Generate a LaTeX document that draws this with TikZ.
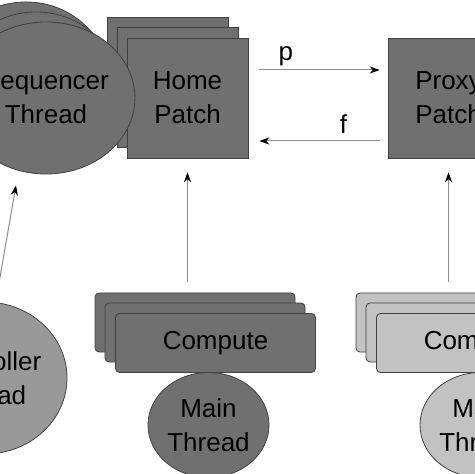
\documentclass[tikz,border=0pt]{standalone}
\usepackage{fontspec}
\setmainfont{Liberation Sans}
\usetikzlibrary{arrows.meta, shapes.geometric}

\definecolor{darkfill}{gray}{0.44}
\definecolor{midfill}{gray}{0.60}
\definecolor{lightfill}{gray}{0.76}

\tikzset{
  patch/.style = {draw=black!75, line width=0.4pt, fill=darkfill, inner sep=0pt,
                  minimum width=60.5pt, minimum height=60pt, align=center},
  thread/.style = {ellipse, draw=black!75, line width=0.4pt, inner sep=0pt, align=center},
  bigthread/.style = {thread, minimum width=82pt, minimum height=76pt},
  smallthread/.style = {thread, minimum width=60.5pt, minimum height=52.5pt},
  compute/.style = {draw=black!75, line width=0.4pt, rounded corners=2pt, inner sep=0pt,
                    minimum width=100pt, minimum height=29.5pt},
  link/.style = {draw=black!45, line width=0.5pt,
                 -{Stealth[length=5pt, width=3.6pt, color=black]}}
}

\begin{document}
\begin{tikzpicture} [x=0.5pt, y=-0.5pt, font=\fontsize{13}{17}\selectfont]

\useasboundingbox (0,0) rectangle (474,474);

% home patch stack
\node (home3) [patch] at (167.5,77) {};
\node (home2) [patch] at (177.5,87.5) {};
\node (home) [patch] at (187.5,98) {Home\\Patch};

% sequencer stack
\node (seq3) [bigthread, fill=darkfill] at (26,78) {};
\node (seq2) [bigthread, fill=darkfill] at (36,88) {};
\node (seq) [bigthread, fill=darkfill] at (46,98) {Sequencer\\Thread};

\node (proxy) [patch] at (448.5,98) {Proxy\\Patch};

\node (ctrl) [bigthread, fill=midfill] at (-15,378) {Controller\\Thread};

% compute objects
\node (comp3) [compute, fill=darkfill] at (195,322.5) {};
\node (comp2) [compute, fill=darkfill] at (205,332.5) {};
\node (comp) [compute, fill=darkfill] at (215.5,343) {Compute};
\node (main) [smallthread, fill=darkfill] at (208.5,425) {Main\\Thread};

\node (rcomp3) [compute, fill=lightfill] at (456,322.5) {};
\node (rcomp2) [compute, fill=lightfill] at (466,332.5) {};
\node (rcomp) [compute, fill=lightfill] at (476.5,343) {Compute};
\node (rmain) [smallthread, fill=lightfill] at (480.5,425) {Main\\Thread};

\path [link]
    ([xshift=5.5pt, yshift=14pt]home.east) -- node [above=-1.5pt, pos=0.22] {p}
    ([xshift=-4pt, yshift=14pt]proxy.west);
\path [link]
    ([xshift=-4pt, yshift=-21.5pt]proxy.west) -- node [above, pos=0.3] {f}
    ([xshift=5.5pt, yshift=-21.5pt]home.east);
\path [link]
    ([yshift=5.5pt]home.south |- comp3.north) -- ([yshift=-7pt]home.south);
\path [link]
    ([yshift=5.5pt]proxy.south |- rcomp3.north) -- ([yshift=-7pt]proxy.south);
\path [link]
    ([xshift=4.5pt, yshift=-5pt]ctrl.north) -- ([xshift=-15pt, yshift=-5.5pt]seq.south);

\end{tikzpicture}
\end{document}
